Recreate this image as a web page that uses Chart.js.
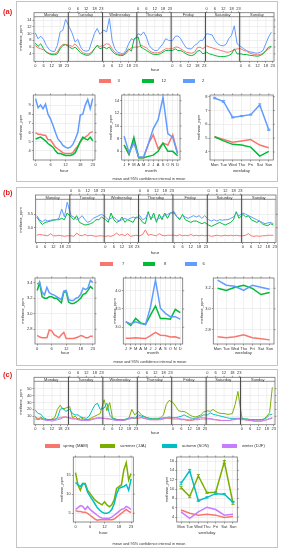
<!DOCTYPE html>
<html><head><meta charset="utf-8">
<script src="https://cdn.jsdelivr.net/npm/chart.js@4.4.1/dist/chart.umd.min.js"></script>
<style>
html,body{margin:0;padding:0;background:#fff;}
body{width:284px;height:550px;position:relative;overflow:hidden;}
canvas{position:absolute;}
.box{position:absolute;border:1.5px solid #c4c4c4;box-sizing:border-box;}
</style></head><body>
<div class="box" style="left:16px;top:1px;width:262px;height:181px"></div>
<div class="box" style="left:16px;top:187px;width:262px;height:179px"></div>
<div class="box" style="left:16px;top:369px;width:262px;height:179px"></div>
<script>
// ---------------- DATA ----------------
const dayNames = ['Monday','Tuesday','Wednesday','Thursday','Friday','Saturday','Sunday'];
const weekHours = [0,2,4,6,8,10,12,14,16,18,20,22];
const hours24 = [0,1,2,3,4,5,6,7,8,9,10,11,12,13,14,15,16,17,18,19,20,21,22,23];
const hourTicks = [0,6,12,18,23];
const hourTickLabels = ['0','6','12','18','23'];
const months = ['J','F','M','A','M','J','J','A','S','O','N','D'];
const weekdays = ['Mon','Tue','Wed','Thu','Fri','Sat','Sun'];

// panel (a)
const aNames = ['3','12','2'];
const aColors = ['#F8766D','#00BA38','#619CFF'];
const aWeek3 = [
 6.5,5.8,5.5,5.2,4.6,4.2,4.0,4.0,4.5,6.0,6.8,6.8,
 6.5,6.2,7.0,6.0,5.0,4.3,4.0,4.0,4.5,5.5,6.5,6.2,
 6.5,7.0,6.8,5.5,4.5,4.0,3.8,3.7,4.0,5.0,5.8,6.0,
 6.0,6.5,6.2,5.8,5.0,4.5,4.3,4.3,4.5,5.0,5.5,5.5,
 5.5,6.0,6.0,5.5,5.0,4.5,4.3,4.2,4.5,5.8,6.0,5.5,
 6.4,6.0,5.8,5.5,5.3,5.0,4.8,4.5,4.5,4.8,5.2,5.5,
 5.5,5.0,4.8,4.3,4.0,3.8,3.7,3.8,4.2,4.8,5.5,6.0];
const aWeek12 = [
 7.2,6.2,7.0,5.5,4.5,4.0,3.8,3.7,4.0,5.5,6.5,6.7,
 6.0,5.5,6.0,5.2,4.3,3.9,3.6,3.6,4.2,5.5,6.5,5.5,
 6.0,5.5,6.0,4.8,4.0,3.7,3.5,3.5,4.5,5.5,4.8,8.5,
 9.0,6.0,5.5,5.0,4.5,4.0,3.8,3.8,4.0,4.5,5.0,5.0,
 5.0,5.5,5.0,5.0,4.5,4.0,3.6,3.5,3.8,4.8,5.0,4.0,
 4.5,4.0,3.8,3.5,3.3,3.2,3.2,3.3,3.5,4.0,5.5,4.0,
 4.0,3.8,3.8,3.6,3.5,3.4,3.3,3.5,4.0,5.0,6.0,6.2];
const aWeek2 = [
 10.2,8.5,9.2,8.3,6.5,5.3,4.8,4.7,6.5,10.5,11.0,14.2,
 11.8,10.0,7.5,8.3,6.0,5.0,4.8,5.0,7.5,10.0,11.5,9.8,
 11.0,10.5,14.5,8.0,5.5,4.5,4.2,4.0,5.0,7.0,8.5,8.0,
 10.0,9.5,10.5,9.0,6.5,5.5,5.0,5.0,6.0,7.0,8.5,8.0,
 7.9,9.2,9.3,8.5,7.0,5.8,5.5,5.5,6.5,7.0,8.0,8.0,
 10.0,9.8,9.6,8.0,7.0,6.5,6.4,6.8,8.5,9.5,12.3,7.0,
 6.1,5.5,5.0,4.6,4.5,4.3,4.2,4.5,5.0,7.0,9.0,10.4];
const aHour3 = [6.0,5.8,5.8,5.7,5.7,5.2,5.2,4.8,4.4,4.2,4.0,3.8,3.7,3.7,3.7,3.8,4.2,4.5,5.0,5.3,5.5,5.7,6.0,6.1];
const aHour12 = [5.3,5.4,5.5,5.3,5.1,4.8,4.6,4.4,4.0,3.7,3.7,3.6,3.5,3.5,3.5,3.6,3.8,4.4,5.0,5.5,5.3,5.2,5.5,5.1];
const aHour2 = [9.7,8.7,9.0,8.6,9.1,8.0,7.5,6.8,6.0,5.3,5.0,4.6,4.4,4.3,4.4,4.7,5.3,6.0,7.9,8.0,9.0,9.6,8.6,9.7];
const aMonth3 = [7.0,5.6,7.6,5.0,5.0,7.2,8.6,6.4,7.3,7.0,8.6,5.7];
const aMonth12 = [7.0,5.5,8.2,5.0,5.0,5.2,5.4,6.0,7.3,6.0,6.0,5.3];
const aMonth2 = [8.4,5.8,7.3,5.1,5.1,7.2,9.6,11.0,14.5,8.8,8.2,5.6];
const aWday3 = [5.1,4.9,4.7,4.8,4.9,4.5,4.3];
const aWday12 = [5.1,4.8,4.55,4.5,4.35,3.7,4.05];
const aWday2 = [7.9,7.65,6.5,6.6,6.7,7.4,5.6];
const aWday2CI = [0.05,0.07,0.04,0.04,0.04,0.08,0.05];
const aYWeek = [4,6,8,10,12,14];
const aYHour = [4,5,6,7,8,9];
const aYMonth = [6,8,10,12,14];
const aYWday = [4,5,6,7,8];

// panel (b)
const bNames = ['7','8','6'];
const bColors = ['#F8766D','#00BA38','#619CFF'];
const bWeek7 = [
 2.72,2.75,2.73,2.72,2.70,2.78,2.70,2.70,2.72,2.70,2.68,2.70,
 2.70,2.68,2.80,2.72,2.70,2.75,2.70,2.72,2.70,2.68,2.70,2.70,
 2.68,2.70,2.68,2.72,2.80,2.72,2.75,2.70,2.78,2.68,2.70,2.72,
 2.70,2.75,2.92,2.72,2.75,2.72,2.70,2.78,2.72,2.70,2.72,2.72,
 2.72,2.70,2.74,2.70,2.72,2.70,2.75,2.70,2.72,2.70,2.72,2.70,
 2.72,2.68,2.70,2.72,2.70,2.70,2.72,2.70,2.72,2.70,2.72,2.70,
 2.70,2.72,2.78,2.70,2.68,2.70,2.68,2.70,2.70,2.72,2.72,2.72];
const bWeek8 = [
 3.40,3.25,3.12,3.20,3.22,3.25,3.28,3.30,3.30,3.35,3.30,3.55,
 3.40,3.30,3.45,3.20,3.15,3.10,3.12,3.15,3.20,3.30,3.30,3.40,
 3.30,3.20,3.55,3.30,3.20,3.25,3.40,3.20,3.30,3.25,3.20,3.40,
 3.35,3.20,3.15,3.60,3.30,3.55,3.20,3.50,3.30,3.55,3.35,3.55,
 3.55,3.40,3.30,3.50,3.30,3.25,3.20,3.25,3.25,3.20,3.15,3.20,
 3.10,3.05,3.10,3.15,3.20,3.15,3.10,3.15,3.20,3.30,3.60,3.35,
 3.50,3.40,3.45,3.30,3.25,3.20,3.25,3.15,3.10,3.08,3.15,3.10];
const bWeek6 = [
 3.45,3.30,3.22,3.30,3.25,3.28,3.30,3.30,3.35,3.70,3.40,3.95,
 3.45,3.40,3.30,3.35,3.45,3.30,3.20,3.25,3.35,3.40,3.45,3.50,
 3.40,3.30,3.35,3.40,3.30,3.25,3.30,3.35,3.30,3.35,3.40,3.35,
 3.45,3.30,3.35,3.55,3.35,3.40,3.30,3.35,3.40,3.45,3.50,3.55,
 3.60,3.40,3.35,3.45,3.40,3.35,3.40,3.45,3.40,3.45,3.35,3.45,
 3.30,3.25,3.30,3.25,3.30,3.28,3.30,3.30,3.35,3.40,3.55,3.45,
 3.55,3.50,3.45,3.40,3.35,3.30,3.25,3.20,3.15,3.18,3.20,3.15];
const bHour7 = [2.72,2.70,2.69,2.69,2.69,2.79,2.78,2.73,2.71,2.69,2.73,2.76,2.68,2.68,2.68,2.68,2.69,2.70,2.72,2.71,2.69,2.69,2.71,2.71];
const bHour8 = [3.30,3.40,3.22,3.20,3.20,3.22,3.22,3.20,3.20,3.17,3.14,3.28,3.28,3.15,3.13,3.13,3.15,3.17,3.20,3.25,3.26,3.30,3.35,3.32];
const bHour6 = [3.38,3.40,3.28,3.24,3.34,3.27,3.25,3.24,3.22,3.20,3.18,3.29,3.30,3.18,3.17,3.17,3.20,3.21,3.25,3.33,3.31,3.33,3.43,3.40];
const bMonth7 = [2.70,2.70,2.71,2.70,2.69,2.77,2.86,2.78,2.77,2.73,2.74,2.69];
const bMonth8 = [3.15,3.05,3.24,3.12,3.08,3.34,3.58,3.24,3.24,3.22,3.49,3.40];
const bMonth6 = [3.15,3.09,3.15,3.10,3.07,3.56,4.29,3.52,3.38,3.29,3.29,3.22];
const bWday7 = [2.73,2.72,2.73,2.75,2.72,2.71,2.70];
const bWday8 = [3.20,3.18,3.21,3.23,3.20,3.14,3.16];
const bWday6 = [3.28,3.23,3.22,3.18,3.23,3.21,3.19];
const bYWeek = [3.0,3.5];
const bYHour = [2.8,3.0,3.2,3.4];
const bYMonth = [3.0,3.5,4.0];
const bYWday = [2.8,3.0,3.2];

// panel (c)
const cNames = ['spring (MAM)','summer (JJA)','autumn (SON)','winter (DJF)'];
const cColors = ['#F8766D','#7CAE00','#00BFC4','#C77CFF'];
const cWeekSpring = [
 8,7,7,6,5,5,5,6,7,8,9,9,
 8,7,7,6,5,5,5,5,6,7,8,8,
 7,7,6,6,5,5,4,4,5,6,7,7,
 7,8,7,6,5,5,5,5,5,6,7,7,
 6,6,6,5,5,4,4,4,5,5,6,6,
 6,6,5,5,4,4,4,4,4,5,5,6,
 5,5,4,4,3,3,3,3,4,5,6,7];
const cWeekSummer = [
 10,5,9,6,5,5,6,8,20,26,20,22,
 24,8,10,6,8,6,5,6,8,10,12,14,
 34,18,30,8,6,5,5,5,6,8,20,12,
 17,12,10,8,7,7,7,7,8,12,27,33,
 30,24,18,17,17,15,12,10,9,10,12,16,
 18,17,20,17,15,14,14,13,13,14,27,46,
 8,6,6,5,5,5,5,5,6,10,15,52];
const cWeekAutumn = [
 19,14,13,8,6,5,5,5,8,20,22,17,
 20,14,12,12,9,8,7,10,18,26,29,20,
 22,29,12,7,6,5,5,5,6,7,8,7,
 12,10,9,8,7,6,6,6,7,8,8,9,
 8,8,9,10,12,10,8,7,7,8,10,12,
 12,15,13,12,11,10,9,8,7,7,7,7,
 7,6,6,5,5,5,5,5,6,8,12,13];
const cWeekWinter = [
 6,5,6,5,4,4,3,4,5,6,8,9,
 7,6,6,5,4,4,4,4,5,6,7,7,
 7,6,6,5,4,4,4,4,5,7,8,8,
 9,8,7,6,5,5,5,5,6,7,8,8,
 8,8,7,6,6,5,5,5,6,7,8,8,
 7,7,6,5,5,4,4,4,4,5,6,7,
 6,5,5,4,4,3,3,3,4,5,7,8];
const cHourSpring = [5.7,5.5,5.5,5.3,5.3,5.0,4.5,4.0,3.5,3.2,3.3,3.3,3.3,3.3,3.3,3.3,3.5,4.0,4.5,5.0,5.5,6.0,5.5,5.2];
const cHourSummer = [15.6,12.4,11.0,12.8,12.8,11.0,10.2,9.3,8.5,8.0,7.6,7.2,8.0,7.2,6.7,7.2,8.5,11.5,12.0,12.4,16.3,18.2,13.7,15.4];
const cHourAutumn = [13.0,12.5,12.0,12.8,12.5,10.5,9.5,8.5,7.5,6.5,5.8,5.3,5.0,5.0,5.3,6.0,7.5,10.0,11.5,11.8,12.0,12.5,11.0,14.0];
const cHourWinter = [6.0,6.5,7.0,6.8,6.0,6.8,6.0,5.5,5.0,4.5,4.0,3.8,3.7,3.7,3.7,4.0,4.5,5.0,5.5,6.0,6.2,6.8,6.5,6.0];
const cWdaySpring = [5.5,4.8,4.4,4.6,4.4,3.9,4.1];
const cWdaySummer = [10.3,8.4,12.8,9.2,9.3,15.8,7.0];
const cWdayAutumn = [11.2,13.9,7.5,8.2,9.0,8.9,7.2];
const cWdayWinter = [5.1,3.7,5.1,6.1,5.6,4.4,4.6];
const cWdaySummerCI = [0.25,0.25,0.3,0.15,0.15,0.3,0.3];
const cWdayAutumnCI = [0.3,0.3,0.15,0.15,0.15,0.15,0.15];
const cYWeek = [10,20,30,40,50];
const cYHour = [5,10,15];
const cYWday = [4,6,8,10,12,14,16];

// ---------------- DRAWING ----------------
const FONT = '"Liberation Sans", Arial, sans-serif';
Chart.defaults.font.family = FONT;
Chart.defaults.font.size = 4;
Chart.defaults.color = '#333';
const PANEL = 24.84, PAD = 0.92;
const evenTickVals = [], oddTickVals = [];
for (let d = 0; d < 7; d++) hourTicks.forEach(h => (d % 2 ? oddTickVals : evenTickVals).push(d*PANEL + PAD + h));

function makeCanvas(x, y, w, h, z) {
  const c = document.createElement('canvas');
  c.width = w; c.height = h;
  c.style.left = x + 'px'; c.style.top = y + 'px';
  c.style.width = w + 'px'; c.style.height = h + 'px';
  if (z) c.style.zIndex = z;
  document.body.appendChild(c);
  return c;
}

const framePlugin = {
  id: 'frame',
  afterDatasetsDraw(chart) {
    // confidence-interval whiskers where a dataset carries a ci array
    const {ctx, scales: {y}} = chart;
    ctx.save();
    chart.data.datasets.forEach((ds, i) => {
      if (!ds.ci) return;
      const meta = chart.getDatasetMeta(i);
      ctx.strokeStyle = ds.borderColor; ctx.lineWidth = 0.9; ctx.beginPath();
      meta.data.forEach((pt, k) => {
        const y1 = y.getPixelForValue(ds.data[k] - ds.ci[k]), y2 = y.getPixelForValue(ds.data[k] + ds.ci[k]);
        ctx.moveTo(pt.x, y1); ctx.lineTo(pt.x, y2);
        ctx.moveTo(pt.x - 1.6, y1); ctx.lineTo(pt.x + 1.6, y1);
        ctx.moveTo(pt.x - 1.6, y2); ctx.lineTo(pt.x + 1.6, y2);
      });
      ctx.stroke();
    });
    ctx.restore();
  },
  afterDraw(chart) {
    const {ctx, chartArea: a, scales: {x, y}} = chart;
    ctx.save();
    ctx.strokeStyle = '#707070'; ctx.lineWidth = 0.8;
    ctx.strokeRect(a.left, a.top, a.width, a.height);
    ctx.strokeStyle = '#555'; ctx.lineWidth = 0.6;
    ctx.beginPath();
    y.ticks.forEach(t => { const py = y.getPixelForValue(t.value); ctx.moveTo(a.right, py); ctx.lineTo(a.right + 1.5, py); });
    x.ticks.forEach((t, i) => { const px = x.getPixelForTick(i); ctx.moveTo(px, a.top); ctx.lineTo(px, a.top - 1.5); });
    ctx.stroke();
    ctx.restore();
  }
};

const weekPlugin = {
  id: 'week',
  beforeDatasetsDraw(chart) {
    const {ctx, chartArea: a, scales: {x}} = chart;
    ctx.save(); ctx.strokeStyle = '#e6e6e6'; ctx.lineWidth = 0.6; ctx.beginPath();
    for (let d = 0; d < 7; d++) hourTicks.forEach(h => {
      const px = x.getPixelForValue(d*PANEL + PAD + h); ctx.moveTo(px, a.top); ctx.lineTo(px, a.bottom);
    });
    ctx.stroke(); ctx.restore();
  },
  afterDraw(chart, args, o) {
    const {ctx, chartArea: a, scales: {x, y}} = chart;
    const st = o.strip, top = a.top - st;
    ctx.save();
    ctx.fillStyle = '#fff'; ctx.fillRect(a.left, top, a.width, st);
    ctx.strokeStyle = '#707070'; ctx.lineWidth = 0.8;
    ctx.strokeRect(a.left, top, a.width, a.bottom - top);
    ctx.beginPath(); ctx.moveTo(a.left, a.top); ctx.lineTo(a.right, a.top); ctx.stroke();
    ctx.strokeStyle = '#444'; ctx.lineWidth = 1; ctx.beginPath();
    for (let d = 1; d < 7; d++) { const px = x.getPixelForValue(d*PANEL); ctx.moveTo(px, top - 0.5); ctx.lineTo(px, a.bottom); }
    ctx.stroke();
    ctx.fillStyle = '#333'; ctx.font = '4px ' + FONT; ctx.textAlign = 'center'; ctx.textBaseline = 'middle';
    dayNames.forEach((n, d) => ctx.fillText(n, x.getPixelForValue(d*PANEL + PANEL/2), top + st/2 + 0.3));
    ctx.strokeStyle = '#555'; ctx.lineWidth = 0.6; ctx.beginPath();
    oddTickVals.forEach(v => { const px = x.getPixelForValue(v); ctx.moveTo(px, top); ctx.lineTo(px, top - 1.5); });
    y.ticks.forEach(t => { const py = y.getPixelForValue(t.value); ctx.moveTo(a.right, py); ctx.lineTo(a.right + 1.5, py); });
    ctx.stroke();
    oddTickVals.forEach((v, i) => ctx.fillText(hourTickLabels[i % 5], x.getPixelForValue(v), top - 4.3));
    ctx.restore();
  }
};

function weekChart(area, strip, series, colors, yMin, yMax, yTicks, dec) {
  const cTop = Math.round(area.t) - 17;
  const T = area.t - cTop;
  const H = Math.ceil(area.b - cTop + 9);
  const B = cTop + H - area.b;
  const c = makeCanvas(0, cTop, 284, H);
  new Chart(c, {
    type: 'line',
    data: { datasets: series.map((arr, i) => ({
      data: arr.map((v, k) => ({x: Math.floor(k/12)*PANEL + PAD + weekHours[k % 12], y: v})),
      borderColor: colors[i], borderWidth: 1, pointRadius: 0, tension: 0, order: -i, fill: false
    })) },
    options: {
      responsive: false, animation: false, devicePixelRatio: 1,
      layout: { padding: { left: 0, top: T, right: 284 - area.r, bottom: 0 } },
      plugins: { legend: { display: false }, tooltip: { enabled: false }, week: { strip } },
      scales: {
        x: { type: 'linear', min: 0, max: 7*PANEL,
          afterBuildTicks: s => { s.ticks = evenTickVals.map(v => ({value: v})); },
          afterFit: s => { s.height = B; },
          ticks: { autoSkip: false, maxRotation: 0, minRotation: 0, padding: 0.5, callback: (v, i) => hourTickLabels[i % 5] },
          grid: { drawOnChartArea: false, tickLength: 1.5, tickColor: '#555', lineWidth: 0.6 },
          border: { display: false } },
        y: { min: yMin, max: yMax,
          afterBuildTicks: s => { s.ticks = yTicks.map(v => ({value: v})); },
          afterFit: s => { s.width = area.l; },
          ticks: { padding: 1, callback: v => v.toFixed(dec) },
          grid: { color: '#e6e6e6', lineWidth: 0.6, tickLength: 1.5, tickColor: '#555' },
          border: { display: false } }
      }
    },
    plugins: [weekPlugin]
  });
}

function smallChart(area, kind, series, colors, yMin, yMax, yTicks, dec, cis) {
  const cl = Math.floor(area.l) - 16, ct = Math.floor(area.t) - 4;
  const W = Math.ceil(area.r) + 4 - cl, H = Math.ceil(area.b) + 10 - ct;
  const L = area.l - cl, T = area.t - ct, R = cl + W - area.r, B = ct + H - area.b;
  const c = makeCanvas(cl, ct, W, H);
  let xScale, labels;
  if (kind === 'hour') {
    xScale = { type: 'linear', min: -0.92, max: 23.92,
      afterBuildTicks: s => { s.ticks = hourTicks.map(v => ({value: v})); },
      ticks: { callback: (v, i) => hourTickLabels[i] } };
  } else {
    labels = kind === 'month' ? months : weekdays;
    xScale = { type: 'category', offset: true, ticks: {} };
  }
  Object.assign(xScale, { afterFit: s => { s.height = B; },
    grid: { color: '#e6e6e6', lineWidth: 0.6, tickLength: 1.5, tickColor: '#555' }, border: { display: false } });
  Object.assign(xScale.ticks, { autoSkip: false, maxRotation: 0, minRotation: 0, padding: 0.8 });
  new Chart(c, {
    type: 'line',
    data: { labels, datasets: series.map((arr, i) => ({
      data: kind === 'hour' ? arr.map((v, k) => ({x: hours24[k], y: v})) : arr,
      ci: cis ? cis[i] : null,
      borderColor: colors[i], borderWidth: 1.5, pointRadius: 0, tension: 0, order: -i, fill: false
    })) },
    options: {
      responsive: false, animation: false, devicePixelRatio: 1,
      layout: { padding: { left: 0, top: T, right: R, bottom: 0 } },
      plugins: { legend: { display: false }, tooltip: { enabled: false } },
      scales: {
        x: xScale,
        y: { min: yMin, max: yMax,
          afterBuildTicks: s => { s.ticks = yTicks.map(v => ({value: v})); },
          afterFit: s => { s.width = L; },
          ticks: { padding: 1, callback: v => v.toFixed(dec) },
          grid: { color: '#e6e6e6', lineWidth: 0.6, tickLength: 1.5, tickColor: '#555' },
          border: { display: false } }
      }
    },
    plugins: [framePlugin]
  });
}

// panel (a)
weekChart({l:34, r:274, t:16.7, b:61.3}, 4, [aWeek3, aWeek12, aWeek2], aColors, 1.8, 15, aYWeek, 0);
smallChart({l:33.3, r:95, t:95, b:160}, 'hour', [aHour3, aHour12, aHour2], aColors, 3.0, 10.1, aYHour, 0);
smallChart({l:121.7, r:180, t:95, b:160}, 'month', [aMonth3, aMonth12, aMonth2], aColors, 4.63, 14.9, aYMonth, 0);
smallChart({l:210, r:273.3, t:95, b:160}, 'wday', [aWday3, aWday12, aWday2], aColors, 3.42, 8.12, aYWday, 0, [null, null, aWday2CI]);
// panel (b)
weekChart({l:35.5, r:276, t:199.3, b:242.5}, 4.3, [bWeek7, bWeek8, bWeek6], bColors, 2.45, 4.06, bYWeek, 1);
smallChart({l:35, r:95, t:278, b:344}, 'hour', [bHour7, bHour8, bHour6], bColors, 2.61, 3.46, bYHour, 1);
smallChart({l:123.3, r:182.7, t:278, b:344}, 'month', [bMonth7, bMonth8, bMonth6], bColors, 2.54, 4.35, bYMonth, 1);
smallChart({l:213.3, r:274, t:278, b:344}, 'wday', [bWday7, bWday8, bWday6], bColors, 2.66, 3.30, bYWday, 1);
// panel (c)
weekChart({l:34, r:275, t:381.3, b:424.7}, 4, [cWeekSpring, cWeekSummer, cWeekAutumn, cWeekWinter], cColors, -2.2, 60.7, cYWeek, 0);
smallChart({l:73.3, r:133.3, t:457, b:522}, 'hour', [cHourSpring, cHourSummer, cHourAutumn, cHourWinter], cColors, 2.73, 19.7, cYHour, 0);
smallChart({l:176.7, r:237.3, t:457, b:522}, 'wday', [cWdaySpring, cWdaySummer, cWdayAutumn, cWdayWinter], cColors, 2.93, 16.86, cYWday, 0, [null, cWdaySummerCI, cWdayAutumnCI, null]);

// ---------------- TEXT OVERLAY ----------------
const ov = makeCanvas(0, 0, 284, 550, 5);
const g = ov.getContext('2d');
function txt(s, x, y, o = {}) {
  g.save();
  g.font = (o.bold ? 'bold ' : '') + (o.size || 4) + 'px ' + FONT;
  g.fillStyle = o.color || '#333'; g.textAlign = o.align || 'center'; g.textBaseline = 'middle';
  g.translate(x, y); if (o.rot) g.rotate(-Math.PI / 2);
  g.fillText(s, 0, 0); g.restore();
}
function legend(y, items, names, colors) {
  items.forEach((it, i) => {
    g.fillStyle = colors[i]; g.fillRect(it[0], y - 2, it[1] - it[0], 4);
    txt(names[i], it[2], y, {align: 'left', size: 4.2});
  });
}
const red = '#e41a1c';
txt('(a)', 3, 11.5, {bold: true, size: 7.5, color: red, align: 'left'});
txt('(b)', 3, 193, {bold: true, size: 7.5, color: red, align: 'left'});
txt('(c)', 3, 375, {bold: true, size: 7.5, color: red, align: 'left'});
const yt = 'methane_ppm';
txt(yt, 21, 38, {rot: true}); txt(yt, 21, 127.5, {rot: true}); txt(yt, 111, 127.5, {rot: true}); txt(yt, 199, 127.5, {rot: true});
txt(yt, 21, 220, {rot: true}); txt(yt, 22.7, 311, {rot: true}); txt(yt, 115, 311, {rot: true}); txt(yt, 201.7, 311, {rot: true});
txt(yt, 21, 402, {rot: true}); txt(yt, 61.7, 489.5, {rot: true}); txt(yt, 166.7, 489.5, {rot: true});
txt('hour', 155, 69.8, {size: 4.3}); txt('hour', 64, 171, {size: 4.3}); txt('month', 151, 171, {size: 4.3}); txt('weekday', 241.5, 171, {size: 4.3});
txt('hour', 155, 253, {size: 4.3}); txt('hour', 65, 353, {size: 4.3}); txt('month', 153, 353, {size: 4.3}); txt('weekday', 243.5, 353, {size: 4.3});
txt('hour', 155, 433, {size: 4.3}); txt('hour', 103.3, 533, {size: 4.3}); txt('weekday', 207, 533, {size: 4.3});
legend(81, [[99,111,117.5],[142,154,161.5],[183,195,202]], aNames, aColors);
legend(264, [[100,113,122],[143,155,164],[185,197,202.5]], bNames, bColors);
legend(446, [[45,60,63],[100,115,120],[162,177,182],[222,237,242]], cNames, cColors);
const foot = 'mean and 95% confidence interval in mean';
txt(foot, 149, 179, {size: 3.8}); txt(foot, 150, 361.5, {size: 3.8}); txt(foot, 149, 543.5, {size: 3.8});
</script></body></html>
